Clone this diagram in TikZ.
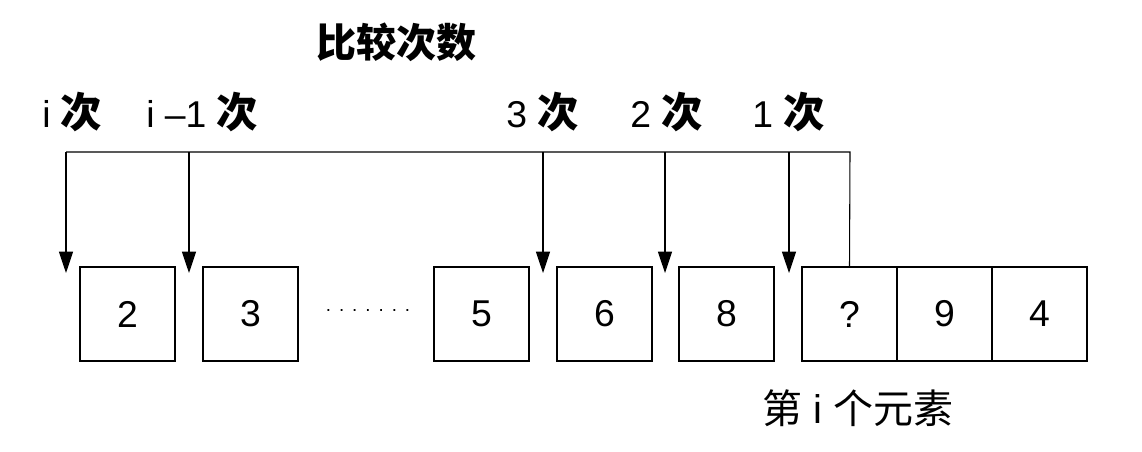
\documentclass[tikz,border=0pt]{standalone}
\usepackage{fontspec}
\setmainfont{Liberation Sans}
\newfontfamily\cjk{Noto Sans CJK SC}
\usetikzlibrary{arrows.meta}
\begin{document}
\begin{tikzpicture}[x=0.75pt,y=-0.75pt,
  cell/.style={draw,line width=0.8pt,minimum width=71.25pt,minimum height=70.5pt,inner sep=0pt,font=\fontsize{28}{30}\selectfont},
  lbl/.style={font=\fontsize{28}{30}\selectfont,inner sep=0pt},
  arr/.style={line width=0.8pt,-{Triangle[width=10.5pt,length=16pt]}}]
\useasboundingbox (0,0) rectangle (1142,451);
\node[cell] (b1) at (127.5,314) {2};
\node[cell] (b2) at (250.5,314) {3};
\node[cell] (b3) at (481.5,314) {5};
\node[cell] (b4) at (604.5,314) {6};
\node[cell] (b5) at (726.5,314) {8};
\node[cell] (b6) at (849.5,314) {?};
\node[cell] (b7) at (944.5,314) {9};
\node[cell] (b8) at (1039.5,314) {4};
\node[font=\fontsize{14}{16}\selectfont] (dots) at (368,310) {.\hspace{6pt}.\hspace{6pt}.\hspace{6pt}.\hspace{6pt}.\hspace{6pt}.\hspace{6pt}.};
\node[lbl,font=\cjk\bfseries\fontsize{30}{32}\selectfont] (title) at (396,42) {比较次数};
\node[lbl,anchor=west] (l1) at (42,112) {i {\cjk\bfseries\fontsize{31}{32}\selectfont 次}};
\node[lbl,anchor=west] (l2) at (146,112) {i –1 {\cjk\bfseries\fontsize{31}{32}\selectfont 次}};
\node[lbl,anchor=west] (l3) at (506,112) {3 {\cjk\bfseries\fontsize{31}{32}\selectfont 次}};
\node[lbl,anchor=west] (l4) at (630,112) {2 {\cjk\bfseries\fontsize{31}{32}\selectfont 次}};
\node[lbl,anchor=west] (l5) at (752,112) {1 {\cjk\bfseries\fontsize{31}{32}\selectfont 次}};
\node[lbl,font=\fontsize{30}{32}\selectfont] (elem) at (858,408) {{\cjk 第} i {\cjk 个元素}};
\coordinate (t0) at (66,152);
\coordinate (t1) at (189,152);
\coordinate (t2) at (543,152);
\coordinate (t3) at (665,152);
\coordinate (t4) at (789,152);
\coordinate (t5) at (850,152);
\coordinate (h0) at (66,273);
\coordinate (h1) at (189,273);
\coordinate (h2) at (543,273);
\coordinate (h3) at (665,273);
\coordinate (h4) at (789,273);
\draw[line width=0.8pt] (b6.north) -- (t5) -- (t0);
\draw[arr] (t0) -- (h0);
\draw[arr] (t1) -- (h1);
\draw[arr] (t2) -- (h2);
\draw[arr] (t3) -- (h3);
\draw[arr] (t4) -- (h4);
\end{tikzpicture}
\end{document}
